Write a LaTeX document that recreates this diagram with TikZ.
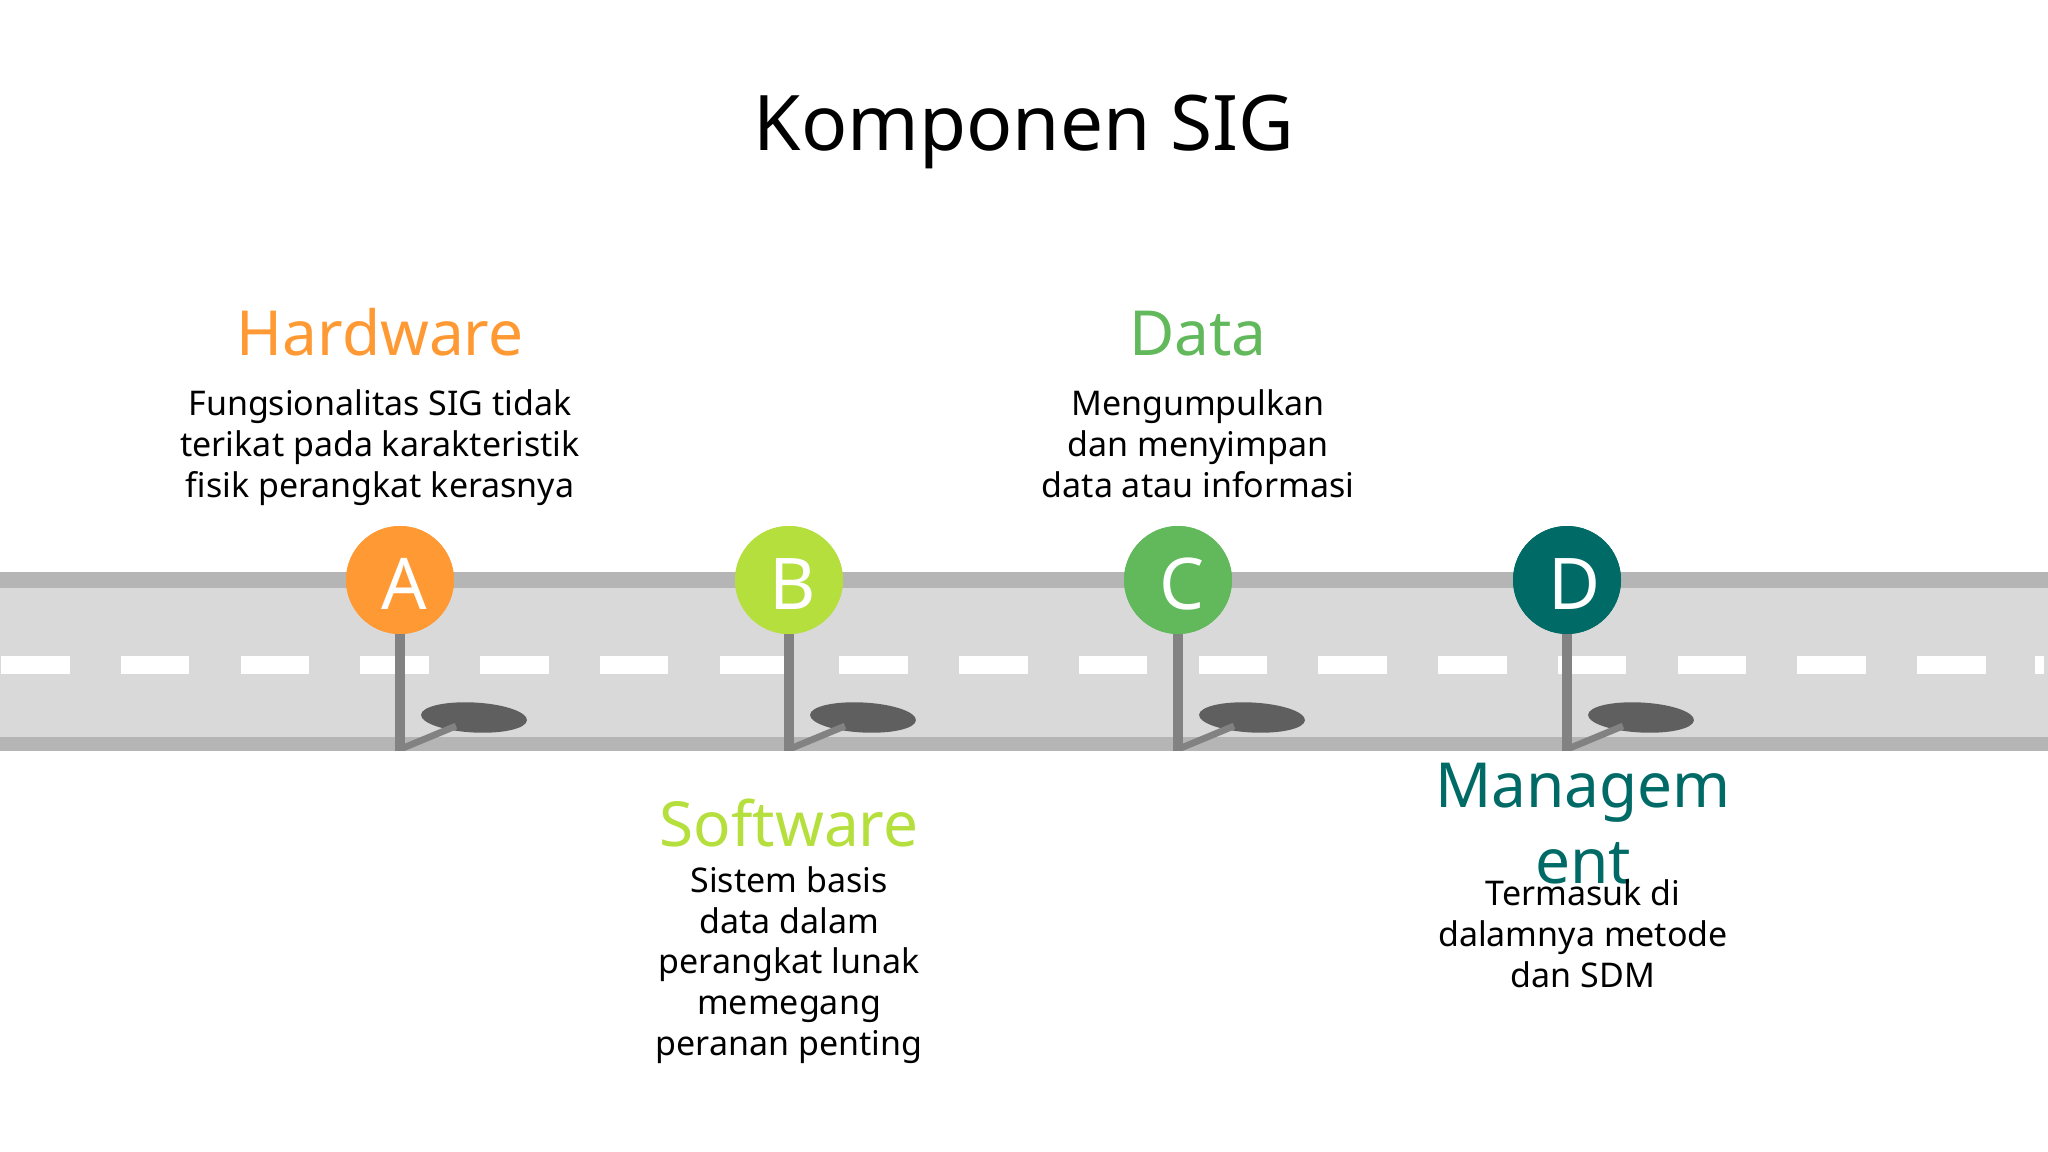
\documentclass[tikz,border=0pt]{standalone}
\usepackage{fontspec}
\setmainfont{Noto Sans}
\definecolor{roadedge}{HTML}{B5B5B5}
\definecolor{roadfill}{HTML}{D9D9D9}
\definecolor{polecol}{HTML}{828282}
\definecolor{shadowcol}{HTML}{5F5F5F}
\definecolor{cA}{HTML}{FF9933}
\definecolor{cB}{HTML}{B5DF3D}
\definecolor{cC}{HTML}{62B95C}
\definecolor{cD}{HTML}{006B66}
\tikzset{
  x=0.75pt,y=-0.75pt,
  pin/.style={circle,minimum size=81pt,inner sep=0pt},
  pinletter/.style={inner sep=0pt,text=white,font=\fontsize{53.5pt}{64pt}\selectfont},
  pole/.style={draw=polecol,line width=8.2pt},
  shadowline/.style={draw=polecol,line width=5pt},
  shadowblob/.style={fill=shadowcol,draw=none},
  heading/.style={inner sep=0pt,anchor=base,font=\fontsize{46.6pt}{56.3pt}\selectfont},
  bodytext/.style={inner sep=0pt,anchor=base,align=center,text=black,font=\fontsize{25.5pt}{30.6pt}\selectfont},
}
\begin{document}
\begin{tikzpicture}
\useasboundingbox (0,0) rectangle (2048,1152);
\fill[white] (0,0) rectangle (2048,1152);
% road
\fill[roadfill] (0,572) rectangle (2048,751);
\fill[roadedge] (0,572) rectangle (2048,588);
\fill[roadedge] (0,737) rectangle (2048,751);
\foreach \k in {0,...,16}{
  \fill[white] ({1+119.75*\k},656) rectangle ({69.5+119.75*\k},674);
}
\fill[white] (2035,656) rectangle (2044,674);
% title
\node[inner sep=0pt,anchor=base,font=\fontsize{57.5pt}{68pt}\selectfont] (title) at (1024,150.5) {Komponen SIG};
% pins
\foreach \n/\x/\c/\l/\dx in {a/400/cA/A/4,b/789/cB/B/4,c/1178/cC/C/4,d/1567/cD/D/8}{
  \coordinate (foot\n) at (\x,751);
  \coordinate (kink\n) at ({\x+3},748);
  \coordinate (blob\n) at ({\x+56},726);
  \fill[shadowblob] ({\x+74},717.5) ellipse[x radius=53,y radius=15,rotate=-3];
  \draw[shadowline] (kink\n) -- (blob\n);
  \node[pin,fill=\c] (pin\n) at (\x,580) {};
  \draw[pole] (pin\n.south) -- (foot\n);
  \node[pin,fill=\c] at (pin\n) {};
  \node[pinletter] at ({\x+\dx},584) {\l};
}
% headings
\node[heading,text=cA] (hA) at (380,355) {Hardware};
\node[heading,text=cB] (hB) at (789,846) {Software};
\node[heading,text=cC] (hC) at (1198,355) {Data};
\node[heading,text=cD,align=center] (hD) at (1583,883) {Managem\\ent};
% bodies
\node[bodytext] (bA) at (380,497) {Fungsionalitas SIG tidak\\terikat pada karakteristik\\fisik perangkat kerasnya};
\node[bodytext] (bB) at (789,1055.5) {Sistem basis\\data dalam\\perangkat lunak\\memegang\\peranan penting};
\node[bodytext] (bC) at (1198,497) {Mengumpulkan\\dan menyimpan\\data atau informasi};
\node[bodytext] (bD) at (1583,987.5) {Termasuk di\\dalamnya metode\\dan SDM};
\end{tikzpicture}
\end{document}
